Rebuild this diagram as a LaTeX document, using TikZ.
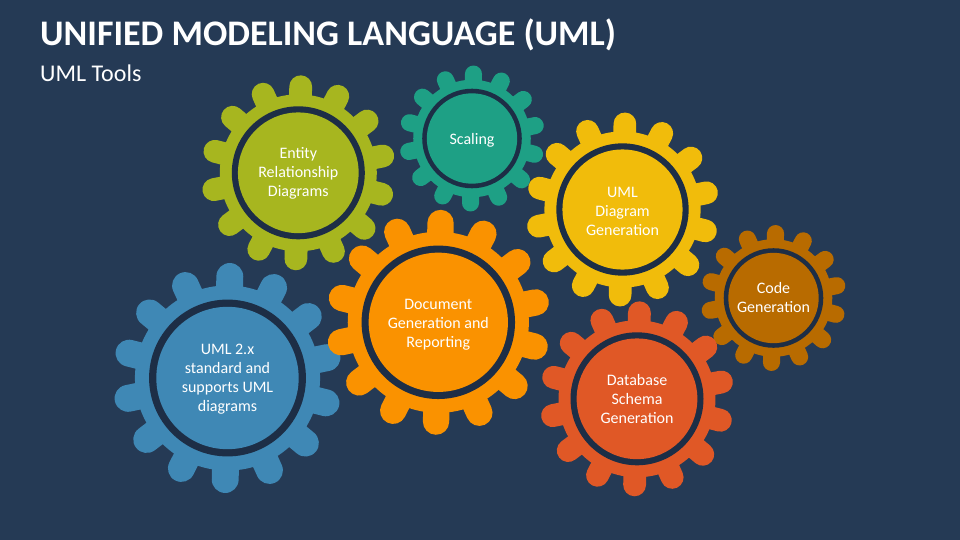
\documentclass[tikz,border=0pt]{standalone}
\usepackage{fontspec}
\setmainfont{Carlito}
\definecolor{slide}{RGB}{37,58,85}
\definecolor{groove}{RGB}{29,46,70}
\definecolor{umlblue}{RGB}{63,136,181}
\definecolor{docorange}{RGB}{250,146,0}
\definecolor{erdlime}{RGB}{167,182,31}
\definecolor{scaleteal}{RGB}{30,160,133}
\definecolor{diagyellow}{RGB}{241,188,11}
\definecolor{codebrown}{RGB}{184,107,0}
\definecolor{dbred}{RGB}{224,88,38}

\begin{document}
\begin{tikzpicture}[x=1pt, y=-1pt,
	gearlabel/.style={inner sep=0pt,text=white,align=center,font=\fontsize{16}{19}\selectfont},
	slidetext/.style={anchor=west,inner sep=0pt,text=white}]
	\fill[slide] (0,0) rectangle (960,540);
	\useasboundingbox (0,0) rectangle (960,540);

	\path (40,35) node[slidetext,font=\fontsize{36}{40}\selectfont\bfseries] (title) {UNIFIED MODELING LANGUAGE (UML)}
	(40,73) node[slidetext,font=\fontsize{24}{28}\selectfont] (subtitle) {UML Tools};

	% x, y, tip radius, turn, text shift, colour, name, text
	\foreach \cx/\cy/\tip/\turn/\dy/\col/\name/\txt in {
		227.5/378/115/1.3/1.5/umlblue/uml/{UML 2.x\\standard and\\supports UML\\diagrams},
		438.3/322.3/112.5/1.3/2/docorange/doc/{Document\\Generation and\\Reporting},
		298.3/172.8/97.5/1.6/1/erdlime/erd/{Entity\\Relationship\\Diagrams},
		472/138.5/73/1.3/2/scaleteal/scale/{Scaling},
		622.5/209.5/97/1.6/2/diagyellow/diag/{UML\\Diagram\\Generation},
		773.5/298/73/1.8/0/codebrown/code/{Code\\Generation},
		637/398.8/97.5/1.6/0/dbred/db/{Database\\Schema\\Generation}} {
		\pgfmathsetmacro{\body}{0.805*\tip}
		\pgfmathsetmacro{\toothr}{0.117*\tip}
		\pgfmathsetmacro{\ringr}{0.682*\tip}
		\pgfmathsetmacro{\discr}{0.619*\tip}
		\fill[\col] (\cx,\cy) circle[radius=\body];
		\foreach \i in {0,...,13} {
			\pgfmathsetmacro{\ang}{90-\turn+\i*360/14}
			\fill[\col,shift={(\cx,\cy)},rotate=\ang] (\body-2,-\toothr) -- (\tip-\toothr,-\toothr)
				arc[start angle=-90,delta angle=180,radius=\toothr] -- (\body-2,\toothr) -- cycle;
		}
		\fill[groove] (\cx,\cy) circle[radius=\ringr];
		\fill[\col] (\cx,\cy) circle[radius=\discr];
		\node[gearlabel] (\name) at (\cx,\cy+\dy) {\txt};
	}
\end{tikzpicture}
\end{document}
